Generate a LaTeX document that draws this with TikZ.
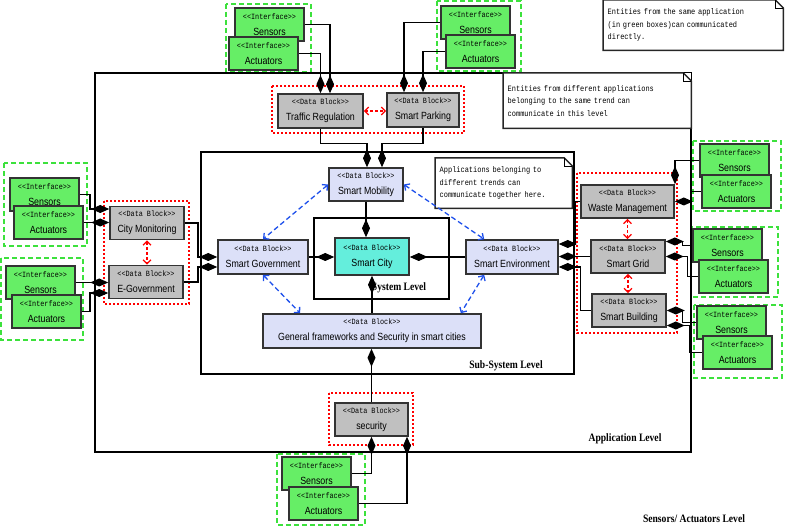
\documentclass[tikz,border=0pt]{standalone}
\usepackage{fontspec}
\setmainfont{Liberation Sans}
\newfontfamily\namefont{Liberation Sans}[FakeStretch=0.85]
\newfontfamily\stereofont{Liberation Mono}[FakeStretch=0.85]
\newfontfamily\levelfont{Liberation Serif}[FakeStretch=0.85]
\usepackage{tikz}
\usetikzlibrary{arrows.meta, positioning}

\definecolor{ifgreen}{RGB}{102,238,102}
\definecolor{grpgreen}{RGB}{60,225,60}
\definecolor{dbgray}{RGB}{192,192,192}
\definecolor{dbblue}{RGB}{220,224,248}
\definecolor{dbteal}{RGB}{100,238,220}
\definecolor{linkblue}{RGB}{30,80,235}

\newcommand{\stype}[1]{{\stereofont\fontsize{8}{9}\selectfont\textless\textless#1\textgreater\textgreater}}

\begin{document}
\begin{tikzpicture}[x=1pt, y=-1pt,
    box/.style={draw=black!80, line width=1.6pt, align=center, inner sep=1pt,
                font=\namefont\fontsize{10.4}{12}\selectfont},
    iface/.style={box, fill=ifgreen, minimum width=69, minimum height=33},
    dgray/.style={box, fill=dbgray},
    dblue/.style={box, fill=dbblue},
    comp/.style={line width=1.4pt, -{Diamond[length=18pt,width=8pt]}},
    rlink/.style={red, line width=1.3pt, dash pattern=on 3pt off 2pt,
                  {Straight Barb[length=4pt,width=8pt]}-{Straight Barb[length=4pt,width=8pt]}},
    blink/.style={linkblue, line width=1.3pt, dash pattern=on 5pt off 3pt,
                  {Straight Barb[length=4pt,width=8pt]}-{Straight Barb[length=4pt,width=8pt]}},
    ggroup/.style={grpgreen, line width=1.4pt, dash pattern=on 5pt off 3pt},
    rgroup/.style={red, line width=1.4pt, dash pattern=on 2pt off 2pt},
    lvl/.style={font=\levelfont\bfseries\fontsize{11.3}{13}\selectfont},
    note/.style={anchor=north west, align=left, fill=white, inner xsep=4.5pt,
                 font=\stereofont\fontsize{8.2}{12.5}\selectfont},
    noteline/.style={draw=black!85, line width=1.5pt}]

  \useasboundingbox (0,0) rectangle (785,526);

  % groups
  \draw[ggroup] (226,4) rectangle (311,72);
  \draw[ggroup] (437,1) rectangle (521,71);
  \draw[ggroup] (4,163) rectangle (87,246);
  \draw[ggroup] (1,258) rectangle (83,340);
  \draw[ggroup] (693,141) rectangle (781,211);
  \draw[ggroup] (691,227) rectangle (778,297);
  \draw[ggroup] (694,305) rectangle (782,378);
  \draw[ggroup] (277,454) rectangle (365,525);

  \draw[rgroup] (272,86) rectangle (464,133);
  \draw[rgroup] (104,201) rectangle (189,304);
  \draw[rgroup] (577,173) rectangle (677,333);
  \draw[rgroup] (329,393) rectangle (413,445);

  % levels
  \draw[line width=1.4pt] (95,73) rectangle (691,452);
  \draw[line width=1.4pt] (201,152) rectangle (574,374);
  \draw[line width=1.4pt] (314,218) rectangle (449,299);

  \node[lvl] (lsys) at (399,288) {System Level};
  \node[lvl] (lsub) at (506,366) {Sub-System Level};
  \node[lvl] (lapp) at (625,439) {Application Level};
  \node[lvl] (lsen) at (694,519) {Sensors/ Actuators Level};

  % notes
  \node[note, text width=171, minimum height=50] (n1) at (603,0)
    {Entities from the same application\\(in green boxes)can communicated\\directly.};
  \node[note, text width=179, minimum height=55] (n2) at (503,73)
    {Entities from different applications\\belonging to the same trend can\\communicate in this level};
  \node[note, text width=128, minimum height=50] (n3) at (435,158)
    {Applications belonging to\\different trends can\\communicate together here.};
  \foreach \n in {n1,n2,n3} {
    \draw[noteline] (\n.north west) -- ([xshift=-8]\n.north east)
      -- ([yshift=-8]\n.north east) |- (\n.south west) -- cycle;
    \draw[line width=0.6pt] ([xshift=-8]\n.north east) |- ([yshift=-8]\n.north east);
  }

  % sensors / actuators
  \node[iface] (ts1) at (269.5,24.5) {\stype{Interface}\\[4pt]Sensors};
  \node[iface] (ta1) at (263.5,53.5) {\stype{Interface}\\[4pt]Actuators};
  \node[iface] (ts2) at (475.5,22.5) {\stype{Interface}\\[4pt]Sensors};
  \node[iface] (ta2) at (480.5,51.5) {\stype{Interface}\\[4pt]Actuators};
  \node[iface] (ls1) at (44.5,194.5) {\stype{Interface}\\[4pt]Sensors};
  \node[iface] (la1) at (48.5,222.5) {\stype{Interface}\\[4pt]Actuators};
  \node[iface] (ls2) at (40.5,282.5) {\stype{Interface}\\[4pt]Sensors};
  \node[iface] (la2) at (46.5,311.5) {\stype{Interface}\\[4pt]Actuators};
  \node[iface] (rs1) at (734.5,160.5) {\stype{Interface}\\[4pt]Sensors};
  \node[iface] (ra1) at (736.5,191.5) {\stype{Interface}\\[4pt]Actuators};
  \node[iface] (rs2) at (727.5,245.5) {\stype{Interface}\\[4pt]Sensors};
  \node[iface] (ra2) at (733.5,276.5) {\stype{Interface}\\[4pt]Actuators};
  \node[iface] (rs3) at (731.5,322.5) {\stype{Interface}\\[4pt]Sensors};
  \node[iface] (ra3) at (737.5,352.5) {\stype{Interface}\\[4pt]Actuators};
  \node[iface] (bs)  at (316.5,473.5) {\stype{Interface}\\[4pt]Sensors};
  \node[iface] (ba)  at (323.5,503.5) {\stype{Interface}\\[4pt]Actuators};

  % applications
  \node[dgray, minimum width=85, minimum height=34] (tr) at (320.5,111) {\stype{Data Block}\\[4pt]Traffic Regulation};
  \node[dgray, minimum width=72, minimum height=34] (sp) at (423,110) {\stype{Data Block}\\[4pt]Smart Parking};
  \node[dgray, minimum width=74, minimum height=33] (cm) at (147,223) {\stype{Data Block}\\[4pt]City Monitoring};
  \node[dgray, minimum width=74, minimum height=33] (eg) at (146,282) {\stype{Data Block}\\[4pt]E-Government};
  \node[dgray, minimum width=93, minimum height=33] (wm) at (627.5,201.5) {\stype{Data Block}\\[4pt]Waste Management};
  \node[dgray, minimum width=74, minimum height=33] (sg) at (628,256.5) {\stype{Data Block}\\[4pt]Smart Grid};
  \node[dgray, minimum width=74, minimum height=33] (sb) at (629,310.5) {\stype{Data Block}\\[4pt]Smart Building};
  \node[dgray, minimum width=73, minimum height=33] (sec) at (371.5,419.5) {\stype{Data Block}\\[4pt]security};

  % trends and system
  \node[dblue, minimum width=74, minimum height=33] (smob) at (366,184.5) {\stype{Data Block}\\[4pt]Smart Mobility};
  \node[dblue, minimum width=90, minimum height=34] (sgov) at (263,257) {\stype{Data Block}\\[4pt]Smart Government};
  \node[dblue, minimum width=92, minimum height=34] (senv) at (512,257) {\stype{Data Block}\\[4pt]Smart Environment};
  \node[dblue, minimum width=218, minimum height=34] (gf) at (372,331) {\stype{Data Block}\\[4pt]General frameworks and Security in smart cities};
  \node[box, fill=dbteal, minimum width=74, minimum height=37] (city) at (372,256.5) {\stype{Data Block}\\[4pt]Smart City};

  % sensors/actuators to applications
  \draw[comp] (ts1.east) -| ([xshift=9.5]tr.north);
  \draw[comp] (ta1.east) -| (tr.north);
  \draw[comp] (ts2.west) -| ([xshift=-19]sp.north);
  \draw[comp] (ta2.west) -| (sp.north);
  \draw[comp] (ls1.east) -- ++(10,0) |- ([yshift=14]cm.west);
  \draw[comp] (la1.east) -- (la1.east -| cm.west);
  \draw[comp] (ls2.east) -- (ls2.east -| eg.west);
  \draw[comp] (la2.east) -- ++(8,0) |- ([yshift=-11]eg.west);
  \draw[comp] (rs1.west) -| ([xshift=47.5]wm.north);
  \draw[comp] (ra1.west) -- ++(-10,0) |- (wm.east);
  \draw[comp] (rs2.west) -- ++(-10,0) |- ([yshift=15]sg.east);
  \draw[comp] (ra2.west) -- ++(-11,0) |- (sg.east);
  \draw[comp] (rs3.west) -- ++(-14,0) |- (sb.east);
  \draw[comp] (ra3.west) -- ++(-13,0) |- ([yshift=-15]sb.east);
  \draw[comp] (bs.east) -| (sec.south);
  \draw[comp] (ba.east) -| ([xshift=35.5]sec.south);

  % applications to trends
  \draw[comp] (tr.south) -- ++(0,15) -| ([xshift=1]smob.north);
  \draw[comp] (sp.south) -- ++(0,16) -| ([xshift=16]smob.north);
  \draw[comp] (cm.east) -- ++(13,0) |- (sgov.west);
  \draw[comp] (eg.east) -- ++(14,0) |- ([yshift=-10]sgov.west);
  \draw[comp] (wm.west) -- ++(-5,0) |- ([yshift=13]senv.east);
  \draw[comp] (sg.west) -- (sg.west -| senv.east);
  \draw[comp] (sb.west) -- ++(-11,0) |- ([yshift=-10]senv.east);
  \draw[comp] (sec.north) -- (sec.north |- gf.south);

  % trends to smart city
  \draw[comp] (smob.south) -- (smob.south |- city.north);
  \draw[comp] (sgov.east) -- (sgov.east -| city.west);
  \draw[comp] (senv.west) -- (senv.west -| city.east);
  \draw[comp] (gf.north) -- (city.south);

  % same trend
  \draw[rlink] (tr.east) -- (tr.east -| sp.west);
  \draw[rlink] (cm.south) -- (cm.south |- eg.north);
  \draw[rlink] (wm.south) -- (wm.south |- sg.north);
  \draw[rlink] (sg.south) -- (sg.south |- sb.north);

  % different trends
  \draw[blink] (smob.west) -- (sgov.north);
  \draw[blink] (smob.east) -- ([xshift=19]senv.north west);
  \draw[blink] (sgov.south) -- ([xshift=38]gf.north west);
  \draw[blink] ([xshift=19]senv.south west) -- ([xshift=-21]gf.north east);

\end{tikzpicture}
\end{document}
